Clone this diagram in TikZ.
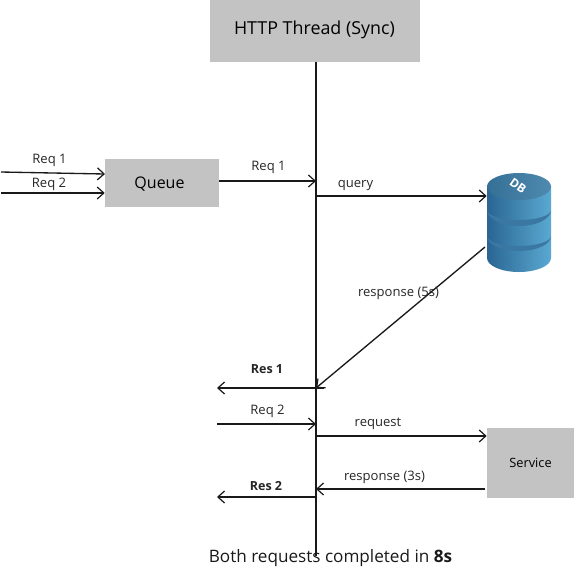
\documentclass[tikz,border=0pt]{standalone}
\usepackage{fontspec}
\setmainfont{Open Sans}
\usepackage{xcolor}
\usetikzlibrary{arrows.meta}
\definecolor{boxgray}{HTML}{C3C3C3}
\definecolor{dbdark}{HTML}{2A6593}
\definecolor{dblight}{HTML}{5AA9D2}
\definecolor{dbtop}{HTML}{3B7CA6}
\definecolor{dbband}{HTML}{3A77A2}
\tikzset{
box/.style={
fill=boxgray,
inner sep=0pt
},
arrow/.style={
-{Straight Barb[length=5pt,width=9pt,line width=0.9pt]},
line width=1pt,
black!90
},
lbl/.style={
font=\fontsize{9.8}{11}\selectfont,
text=black!85,
inner sep=0pt
},
lblbold/.style={
lbl,
font=\bfseries\fontsize{9.4}{11}\selectfont
}
}

\begin{document}
\begin{tikzpicture}[x=0.75pt,y=-0.75pt]
\useasboundingbox (0,0) rectangle (574,569);

\node[box,minimum width=157.5pt,minimum height=46.5pt](http) at (315,31){};
\node[font=\fontsize{13.4}{15}\selectfont,inner sep=0pt](httplabel) at (314.5,30){HTTP Thread (Sync)};
\node[box,minimum width=85.5pt,minimum height=36pt](queue) at (162,183){};
\node[font=\fontsize{12}{15}\selectfont,inner sep=0pt](queuelabel) at (159.5,184){Queue};
\node[box,minimum width=65.25pt,minimum height=52.5pt,font=\fontsize{9.6}{11}\selectfont](service) at (530.5,463){Service};

% database
\node[minimum width=48pt,minimum height=74pt,inner sep=0pt](db) at (519,222.5){};
\shade[left color=dbdark,right color=dblight] (487,186) -- (487,258) arc[start angle=180,end angle=0,x radius=32,y radius=14] -- (551,186) -- cycle;
\foreach \y/\r in {210/16,236/15}
\fill[dbband] (487,\y) arc[start angle=180,end angle=0,x radius=32,y radius=\r] arc[start angle=0,end angle=180,x radius=32,y radius=10] -- cycle;
\shade[left color=dbtop!90!black,right color=dbtop!90!white] (519,186.5) ellipse[x radius=32,y radius=13.5];
\node[text=white,font=\bfseries\fontsize{9}{9}\selectfont,rotate=-35,inner sep=0pt](dblabel) at (518,186){DB};

% free ends
\coordinate (in1) at (1,172);
\coordinate (in2) at (1,193);
\coordinate (spineend) at (316,556);
\coordinate (res1) at (217,388);
\coordinate (res1a) at (324,388);
\coordinate (req2) at (217,424);
\coordinate (req2b) at (316,424);
\coordinate (res2) at (217,497);
\coordinate (res2a) at (316,497);

\draw[line width=1pt,black!90](http.south -| 316,0)--(spineend);

\draw[arrow](in1)--(105,174);
\draw[arrow](in2)--(queue.west |- in2);
\draw[arrow](queue.east |- 0,181)--(316,181);
\draw[arrow](316,196)--(db.west |- 0,196);
\draw[arrow](485,247)--(316,388);
\draw[arrow](res1a)--(res1);
\draw[arrow](req2)--(req2b);
\draw[arrow](316,436)--(service.west |- 0,436);
\draw[arrow](485,489)--(316,489);
\draw[arrow](res2a)--(res2);

\node[lbl](t1) at (49.5,160){Req 1};
\node[lbl](t2) at (49,184){Req 2};
\node[lbl](t3) at (268.5,167){Req 1};
\node[lbl](t4) at (355.5,185.5){query};
\node[lbl](t5) at (398.5,293){response (5s)};
\node[lblbold](t6) at (267,369){Res 1};
\node[lbl](t7) at (267.5,411){Req 2};
\node[lbl](t8) at (378,424){request};
\node[lbl](t9) at (384.5,477){response (3s)};
\node[lblbold](t10) at (266,486){Res 2};
\node[lbl,font=\fontsize{12.85}{14}\selectfont,text=black!90](total) at (330.5,558.5){Both requests completed in \textbf{8s}};

\end{tikzpicture}
\end{document}
